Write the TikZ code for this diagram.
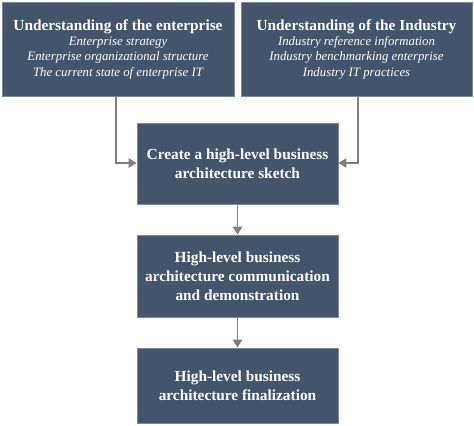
\documentclass[tikz,border=0pt]{standalone}
\usepackage{fontspec}
\setmainfont{Liberation Serif}
\usetikzlibrary{arrows.meta}
\definecolor{boxfill}{HTML}{44546A}
\definecolor{arrowgray}{HTML}{7F7F7F}
\begin{document}
\begin{tikzpicture}[x=0.75pt,y=-0.75pt,
  box/.style={draw=boxfill!70!white,line width=0.6pt,fill=boxfill,text=white,align=center,inner sep=0pt},
  conn/.style={draw=arrowgray,line width=1.4pt,-{Triangle[length=6pt,width=7pt]}}]
\useasboundingbox (0,0) rectangle (474,425);
\node[box,minimum width=232*0.75pt,minimum height=94*0.75pt] (A) at (118,49)
  {{\fontsize{11.5}{12}\selectfont\bfseries Understanding of the enterprise}\\[-0.5pt]
   {\fontsize{9.6}{11.2}\selectfont\itshape Enterprise strategy}\\[-0.5pt]
   {\fontsize{9.6}{11.2}\selectfont\itshape Enterprise organizational structure}\\[-0.5pt]
   {\fontsize{9.6}{11.2}\selectfont\itshape The current state of enterprise IT}};
\node[box,minimum width=231*0.75pt,minimum height=94*0.75pt] (B) at (356.5,49)
  {{\fontsize{11.5}{12}\selectfont\bfseries Understanding of the Industry}\\[-0.5pt]
   {\fontsize{9.6}{11.2}\selectfont\itshape Industry reference information}\\[-0.5pt]
   {\fontsize{9.6}{11.2}\selectfont\itshape Industry benchmarking enterprise}\\[-0.5pt]
   {\fontsize{9.6}{11.2}\selectfont\itshape Industry IT practices}};
\node[box,minimum width=201*0.75pt,minimum height=81*0.75pt,font=\fontsize{11.5}{14.25}\selectfont\bfseries] (C) at (237.5,163.5)
  {Create a high-level business\\architecture sketch};
\node[box,minimum width=201*0.75pt,minimum height=82*0.75pt,font=\fontsize{11.5}{14.25}\selectfont\bfseries] (D) at (237.5,276)
  {High-level business\\architecture communication\\and demonstration};
\node[box,minimum width=201*0.75pt,minimum height=75*0.75pt,font=\fontsize{11.5}{14.25}\selectfont\bfseries] (E) at (237.5,385.5)
  {High-level business\\architecture finalization};
\coordinate (a1) at (116,163);
\coordinate (b1) at (358,163);
\draw[conn] (A.south -| a1) -- (a1) -- (C.west |- a1);
\draw[conn] (B.south -| b1) -- (b1) -- (C.east |- b1);
\draw[conn] (C) -- (D);
\draw[conn] (D) -- (E);
\end{tikzpicture}
\end{document}
